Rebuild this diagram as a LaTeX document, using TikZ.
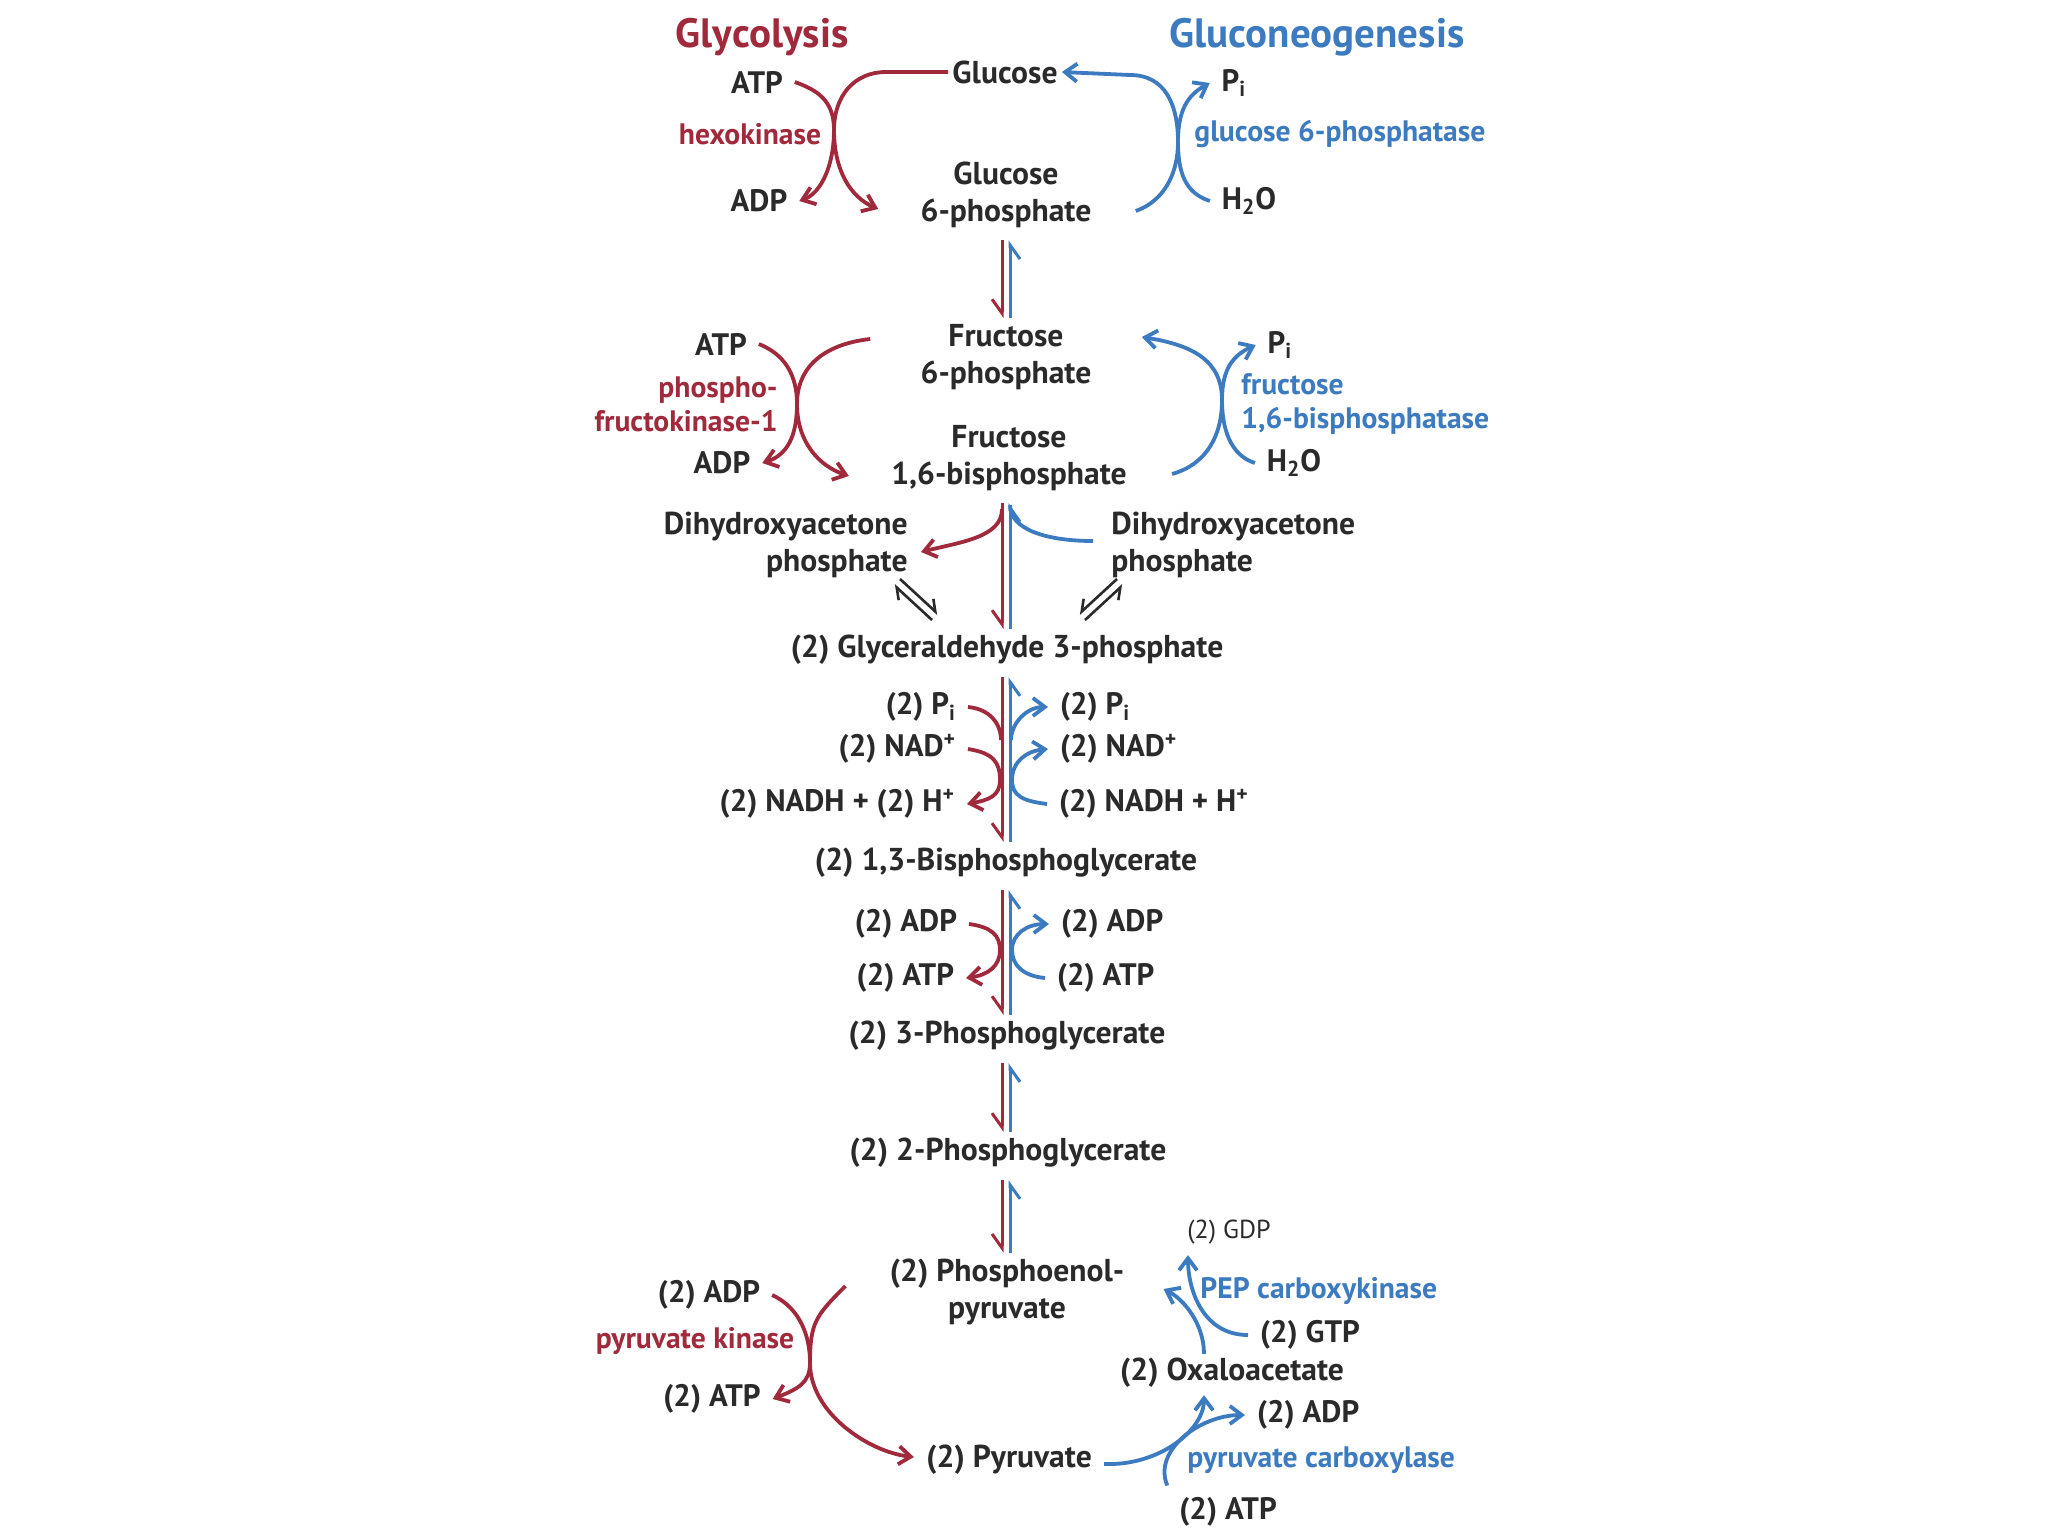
\documentclass[tikz,border=0pt]{standalone}
\usepackage{fontspec}
\setmainfont{PT Sans}
\usetikzlibrary{arrows.meta, positioning}
\definecolor{glyred}{HTML}{A02A3B}
\definecolor{gngblue}{HTML}{3C7BBF}
\definecolor{ink}{HTML}{2A2A2A}

\begin{document}
\begin{tikzpicture}[x=0.5pt, y=-0.5pt,
  met/.style={font=\fontsize{15.8}{18.5}\selectfont\bfseries, text=ink, align=center, inner sep=2pt, yshift=-2pt},
  cof/.style={font=\fontsize{15.5}{18.5}\selectfont\bfseries, text=ink, inner sep=1pt, outer sep=5pt, yshift=-1pt},
  enzr/.style={font=\fontsize{14.8}{17}\selectfont\bfseries, text=glyred, inner sep=1pt, yshift=-1pt},
  enzb/.style={font=\fontsize{14.8}{17}\selectfont\bfseries, text=gngblue, inner sep=1pt, yshift=-1pt},
  ttl/.style={font=\fontsize{20.5}{22}\selectfont\bfseries},
  rarr/.style={-{Straight Barb[length=6pt,width=9pt]}, line width=1.9pt, glyred},
  barr/.style={-{Straight Barb[length=6pt,width=9pt]}, line width=1.9pt, gngblue},
  rdn/.style={-{Straight Barb[harpoon,swap,length=7pt,width=10pt]}, line width=1.5pt, glyred},
  bup/.style={-{Straight Barb[harpoon,swap,length=7pt,width=10pt]}, line width=1.5pt, gngblue},
  eqm/.style={-{Straight Barb[harpoon,length=5pt,width=8pt]}, line width=1.3pt, ink},
  eqms/.style={-{Straight Barb[harpoon,swap,length=5pt,width=8pt]}, line width=1.3pt, ink}
]
\fill[white] (0,0) rectangle (2048,1536);
\useasboundingbox (0,0) rectangle (2048,1536);

\node[ttl, text=glyred]  (tglyc) at (762,37)  {Glycolysis};
\node[ttl, text=gngblue] (tgng)  at (1317,37) {Gluconeogenesis};

% main column
\node[met, yshift=2pt] (glc) at (1005,72) {Glucose};
\node[met] (g6p)     at (1006,191)  {Glucose\\6-phosphate};
\node[met] (f6p)     at (1006,353)  {Fructose\\6-phosphate};
\node[met] (fbp)     at (1009,454)  {Fructose\\1,6-bisphosphate};
\node[met, align=right, anchor=east] (dhapl) at (912,541)  {Dihydroxyacetone\\phosphate};
\node[met, align=left, anchor=west]  (dhapr) at (1107,541) {Dihydroxyacetone\\phosphate};
\node[met] (gap)     at (1007,646)  {(2) Glyceraldehyde 3-phosphate};
\node[met] (bpg)     at (1006,859)  {(2) 1,3-Bisphosphoglycerate};
\node[met] (pgthree) at (1007,1032) {(2) 3-Phosphoglycerate};
\node[met] (pgtwo)   at (1008,1149) {(2) 2-Phosphoglycerate};
\node[met] (pep)     at (1007,1288) {(2) Phosphoenol-\\pyruvate};
\node[met] (pyr)     at (1009,1456) {(2) Pyruvate};
\node[met] (oaa)     at (1232,1369) {(2) Oxaloacetate};

% cofactors and enzymes
\node[cof] (atpa) at (757,80)  {ATP};
\node[cof] (adpa) at (759,199) {ADP};
\node[enzr] (hk)  at (750,132) {hexokinase};
\node[cof] (pia)  at (1234,81)  {P\textsubscript{i}};
\node[cof] (wata) at (1249,199) {H\textsubscript{2}O};
\node[enzb, anchor=west] (gpase) at (1192,132) {glucose 6-phosphatase};

\node[cof] (atpb) at (721,342) {ATP};
\node[cof] (adpb) at (722,461) {ADP};
\node[enzr, align=right, anchor=east] (pfk) at (780,402) {phospho-\\fructokinase-1};
\node[cof] (pib)  at (1280,343) {P\textsubscript{i}};
\node[cof] (watb) at (1294,461) {H\textsubscript{2}O};
\node[enzb, align=left, anchor=west] (fbpase) at (1239,402) {fructose\\1,6-bisphosphatase};

\node[cof, anchor=east] (pic)   at (968,705) {(2) P\textsubscript{i}};
\node[cof, anchor=east] (nadc)  at (968,747) {(2) NAD\textsuperscript{+}};
\node[cof, anchor=east] (nadhc) at (967,802) {(2) NADH + (2) H\textsuperscript{+}};
\node[cof, anchor=west] (pid)   at (1048,705) {(2) P\textsubscript{i}};
\node[cof, anchor=west] (nadd)  at (1048,747) {(2) NAD\textsuperscript{+}};
\node[cof, anchor=west] (nadhd) at (1047,802) {(2) NADH + H\textsuperscript{+}};

\node[cof, anchor=east] (adpe) at (969,922) {(2) ADP};
\node[cof, anchor=east] (atpe) at (966,976) {(2) ATP};
\node[cof, anchor=west] (adpf) at (1049,922) {(2) ADP};
\node[cof, anchor=west] (atpf) at (1045,976) {(2) ATP};

\node[cof] (adpg) at (709,1293) {(2) ADP};
\node[cof] (atpg) at (712,1397) {(2) ATP};
\node[enzr] (pk)  at (695,1339) {pyruvate kinase};

\node[cof, font=\fontsize{13}{14}\selectfont, outer sep=2pt] (gdp) at (1229,1230) {(2) GDP};
\node[enzb, anchor=west] (pepck) at (1198,1289) {PEP carboxykinase};
\node[cof, anchor=west] (gtp)  at (1248,1333) {(2) GTP};
\node[cof, anchor=west] (adph) at (1245,1413) {(2) ADP};
\node[enzb, anchor=west] (pc)  at (1185,1458) {pyruvate carboxylase};
\node[cof] (atph) at (1228,1510) {(2) ATP};

% crossing points
\coordinate (rx)   at (1002,0);
\coordinate (bx)   at (1010,0);
\coordinate (hkx)  at (834,130);
\coordinate (gpx)  at (1178,142);
\coordinate (pfkx) at (797,404);
\coordinate (fbpx) at (1222,400);
\coordinate (pkx)  at (810,1363);
\coordinate (pjr)  at (1001,740);
\coordinate (pjb)  at (1011,740);
\coordinate (gdr)  at (1000,780);
\coordinate (gdb)  at (1012,780);
\coordinate (pgr)  at (1000,950);
\coordinate (pgb)  at (1012,950);

\foreach \a/\b in {g6p/f6p,fbp/gap,gap/bpg,bpg/pgthree,pgthree/pgtwo,pgtwo/pep} {
  \draw[rdn, shorten <=4pt, shorten >=1pt] (\a.south -| rx) -- (\b.north -| rx);
  \draw[bup, shorten <=1pt, shorten >=4pt] (\b.north -| bx) -- (\a.south -| bx);
}

% hexokinase / glucose 6-phosphatase
\draw[rarr] (glc.west) -- ++(-62,0) .. controls +(-32,0) and +(0,-34) .. (hkx)
  .. controls +(0,40) and +(-28,-12) .. ([shift={(-38,14)}]g6p.west);
\draw[rarr] (atpa.east) .. controls +(22,8) and +(0,-30) .. (hkx)
  .. controls +(0,35) and +(22,-8) .. (adpa.east);
\draw[barr] ([shift={(40,16)}]g6p.east) .. controls +(28,-10) and +(0,32) .. (gpx)
  .. controls +(0,-36) and +(36,0) .. ++(-48,-67) -- (glc.east);
\draw[barr] (wata.west) .. controls +(-25,-8) and +(0,30) .. (gpx)
  .. controls +(0,-32) and +(-22,12) .. (pia.west);

% phosphofructokinase-1 / fructose 1,6-bisphosphatase
\draw[rarr] ([shift={(-46,-18)}]f6p.west) .. controls +(-45,5) and +(0,-38) .. (pfkx)
  .. controls +(0,38) and +(-30,-10) .. ([shift={(-38,18)}]fbp.west);
\draw[rarr] (atpb.east) .. controls +(25,10) and +(0,-30) .. (pfkx)
  .. controls +(0,32) and +(25,-8) .. (adpb.east);
\draw[barr] ([shift={(41,16)}]fbp.east) .. controls +(35,-10) and +(0,35) .. (fbpx)
  .. controls +(0,-40) and +(50,8) .. ([shift={(46,-20)}]f6p.east);
\draw[barr] (watb.west) .. controls +(-25,-8) and +(0,28) .. (fbpx)
  .. controls +(0,-32) and +(-22,10) .. (pib.west);

% aldolase, triose phosphate isomerase
\draw[rarr] (fbp.south -| rx) ++(0,14) .. controls +(0,28) and +(40,-10) .. ([shift={(9,7)}]dhapl.east);
\draw[barr, -] ([shift={(-14,-4)}]dhapr.west) .. controls +(-45,0) and +(0,25) .. ([shift={(0,10)}]fbp.south -| bx);
\draw[eqm]  (900,579) -- (938,614);
\draw[eqm]  (932,620) -- (894,585);
\draw[eqms] (1117,579) -- (1079,614);
\draw[eqms] (1085,620) -- (1123,585);

% glyceraldehyde 3-phosphate dehydrogenase
\draw[rarr, -] (pic.east) .. controls +(22,2) and +(0,-16) .. (pjr);
\draw[rarr] (nadc.east) .. controls +(25,4) and +(0,-18) .. (gdr)
  .. controls +(0,16) and +(22,-4) .. (nadhc.east);
\draw[barr] (pjb) .. controls +(0,-16) and +(-22,0) .. (pid.west);
\draw[barr] (nadhd.west) .. controls +(-24,-3) and +(0,16) .. (gdb)
  .. controls +(0,-18) and +(-22,2) .. (nadd.west);

% phosphoglycerate kinase
\draw[rarr] (adpe.east) .. controls +(22,3) and +(0,-15) .. (pgr)
  .. controls +(0,16) and +(22,-3) .. (atpe.east);
\draw[barr] (atpf.west) .. controls +(-22,-2) and +(0,15) .. (pgb)
  .. controls +(0,-16) and +(-22,0) .. (adpf.west);

% pyruvate kinase
\draw[rarr] ([shift={(-40,-6)}]pep.west) .. controls +(-30,30) and +(0,-40) .. (pkx)
  .. controls +(0,50) and +(-45,-5) .. ([shift={(-8,-3)}]pyr.west);
\draw[rarr] (adpg.east) .. controls +(22,10) and +(0,-35) .. (pkx)
  .. controls +(0,20) and +(25,-10) .. (atpg.east);

% pyruvate carboxylase / PEP carboxykinase
\draw[barr] ([shift={(8,4)}]pyr.east) .. controls +(55,2) and +(0,35) .. ([shift={(-28,3)}]oaa.south);
\draw[barr] (atph.north west) .. controls +(-15,-35) and +(-45,0) .. (adph.west);
\draw[barr] ([shift={(-28,0)}]oaa.north) .. controls +(0,-30) and +(20,10) .. ([shift={(35,-3)}]pep.east);
\draw[barr] (gtp.west) .. controls +(-45,0) and +(0,35) .. ([shift={(-41,5)}]gdp.south);
\end{tikzpicture}
\end{document}
